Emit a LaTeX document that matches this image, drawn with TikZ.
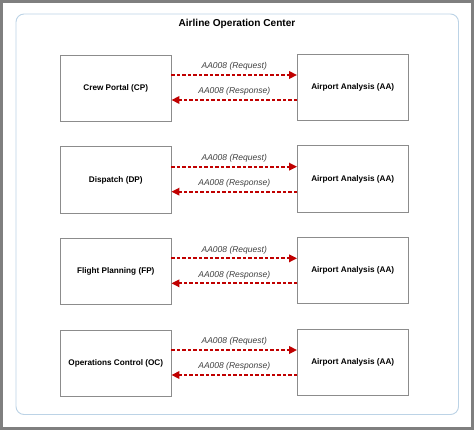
\documentclass[tikz,border=0pt]{standalone}
\usepackage{fontspec}
\setmainfont{Liberation Sans}
\usetikzlibrary{arrows.meta}
\definecolor{framegray}{HTML}{7F7F7F}
\definecolor{boxgray}{HTML}{8C8C8C}
\definecolor{panelblue}{HTML}{BCD3E6}
\definecolor{arrowred}{HTML}{C00000}
\definecolor{labelgray}{HTML}{404040}
\tikzset{
  sysbox/.style={draw=boxgray, line width=0.9pt, fill=white, minimum width=110.5pt, minimum height=66.5pt, inner sep=0pt, font=\fontsize{8.2}{10}\selectfont\bfseries},
  msgline/.style={draw=arrowred, line width=1.8pt, dash pattern=on 3.5pt off 2pt, -{Triangle[length=8pt,width=7.5pt]}},
  msglabel/.style={font=\fontsize{8.5}{10}\selectfont\itshape, text=labelgray, inner sep=0pt, above=3.5pt}
}
\begin{document}
\begin{tikzpicture}[x=1pt,y=-1pt]
\useasboundingbox (0,0) rectangle (474,430);
\fill[white] (0,0) rectangle (474,430);
\draw[framegray, line width=3pt] (1.5,1.5) rectangle (472.5,428.5);
\draw[panelblue, line width=0.9pt, rounded corners=8pt] (16,14) rectangle (458.5,414.5);
\node[font=\fontsize{10.1}{12}\selectfont\bfseries] (title) at (237,24) {Airline Operation Center};
\foreach \i/\name in {0/Crew Portal (CP), 1/Dispatch (DP), 2/Flight Planning (FP), 3/Operations Control (OC)} {
  \pgfmathsetmacro{\cy}{88.25+91.67*\i}
  \node[sysbox] (L\i) at (115.75,\cy) {\name};
  \node[sysbox] (R\i) at (352.75,\cy-1) {Airport Analysis (AA)};
  \draw[msgline] ([yshift=13.25pt]L\i.east) -- node[msglabel] {AA008 (Request)} ([yshift=12.25pt]R\i.west);
  \draw[msgline] ([yshift=-12.75pt]R\i.west) -- node[msglabel] {AA008 (Response)} ([yshift=-11.75pt]L\i.east);
}
\end{tikzpicture}
\end{document}
